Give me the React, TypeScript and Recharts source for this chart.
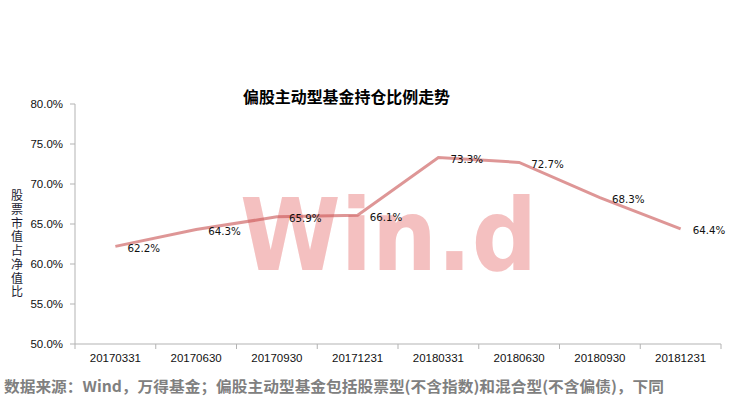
import React from 'react';
import { LineChart, Line, XAxis, YAxis, LabelList } from 'recharts';

// Reporting dates (quarter ends)
const periods = ['20170331', '20170630', '20170930', '20171231', '20180331', '20180630', '20180930', '20181231'];
// Equity holdings as a share of net asset value
const equityRatio = [0.622, 0.643, 0.659, 0.661, 0.733, 0.727, 0.683, 0.644];
// Y axis ticks
const yTicks = [0.5, 0.55, 0.6, 0.65, 0.7, 0.75, 0.8];

const title = '偏股主动型基金持仓比例走势';
const yLabel = '股票市值占净值比';
const footnote = '数据来源：Wind，万得基金；偏股主动型基金包括股票型(不含指数)和混合型(不含偏债)，下同';

// Each period occupies one unit slot; the point sits in the middle of its slot.
const data = periods.map((p, i) => ({ slot: i + 0.5, period: p, ratio: equityRatio[i] }));
const slotEdges = periods.map((_, i) => i).concat([periods.length]);
const slotCenters = periods.map((_, i) => i + 0.5);

const W = 731;
const H = 417;
const AXIS_GRAY = '#b3b3b3';

const pct = (v: number) => `${(v * 100).toFixed(1)}%`;

const PeriodTick = (props: any) => {
  const { x, y, payload } = props;
  const v = payload.value as number;
  if (Number.isInteger(v)) {
    return <line x1={x} x2={x} y1={y} y2={y + 5} stroke={AXIS_GRAY} strokeWidth={1} />;
  }
  const label = periods[Math.floor(v)];
  return (
    <text x={x} y={y + 18} textAnchor="middle" fontFamily="'Liberation Sans', Arial, sans-serif" fontSize={11.5} fill="#111">
      {label}
    </text>
  );
};

const ValueLabel = (props: any) => {
  const { x, y, value } = props;
  return (
    <text x={x + 12} y={y + 1.5} dominantBaseline="central" textAnchor="start" fontFamily="'DejaVu Sans', Verdana, sans-serif" fontSize={10.3} fill="#111">
      {pct(value)}
    </text>
  );
};

export default function App() {
  return (
    <div style={{ position: 'absolute', left: 0, top: 0, width: W, height: H, background: '#fff' }}>
      <svg width={W} height={H} style={{ position: 'absolute', left: 0, top: 0 }}>
        <text x={346.5} y={96} textAnchor="middle" dominantBaseline="central" fontFamily="'Noto Sans CJK SC', sans-serif" fontWeight={700} fontSize={16} fill="#000" textLength={207} lengthAdjust="spacingAndGlyphs">
          {title}
        </text>
        <text x={240} y={270} fontFamily="'DejaVu Sans', sans-serif" fontWeight={700} fontSize={100} fill="#f4c0c0" textLength={297} lengthAdjust="spacingAndGlyphs">
          Win.d
        </text>
        {yLabel.split('').map((ch, i) => (
          <text key={i} x={17} y={194.5 + i * 13.75} fontFamily="'Noto Sans CJK SC', sans-serif" fontSize={12} fill="#1c1c33" textAnchor="middle" dominantBaseline="central">
            {ch}
          </text>
        ))}
        <text x={4} y={385} dominantBaseline="central" fontFamily="'Noto Sans CJK SC', sans-serif" fontWeight={700} fontSize={15} fill="#808080" textLength={660} lengthAdjust="spacingAndGlyphs">
          {footnote}
        </text>
      </svg>
      <div style={{ position: 'absolute', left: 0, top: 0 }}>
        <LineChart width={W} height={H} data={data} margin={{ top: 104, right: 10, bottom: 43, left: 15 }}>
          <XAxis
            dataKey="slot"
            type="number"
            domain={[0, periods.length]}
            ticks={[...slotEdges, ...slotCenters].sort((a, b) => a - b)}
            interval={0}
            tickLine={false}
            tickSize={0}
            tickMargin={0}
            axisLine={{ stroke: AXIS_GRAY, strokeWidth: 1 }}
            tick={<PeriodTick />}
            height={30}
          />
          <YAxis
            type="number"
            domain={[0.5, 0.8]}
            ticks={yTicks}
            interval={0}
            width={60}
            tickFormatter={pct}
            tickSize={5}
            tickMargin={7}
            axisLine={{ stroke: AXIS_GRAY, strokeWidth: 1 }}
            tickLine={{ stroke: AXIS_GRAY, strokeWidth: 1 }}
            tick={{ fontFamily: "'Liberation Sans', Arial, sans-serif", fontSize: 11.5, fill: '#111' }}
          />
          <Line
            type="linear"
            dataKey="ratio"
            stroke="#c85050"
            strokeOpacity={0.6}
            strokeWidth={3}
            dot={false}
            activeDot={false}
            isAnimationActive={false}
          >
            <LabelList dataKey="ratio" content={<ValueLabel />} />
          </Line>
        </LineChart>
      </div>
    </div>
  );
}
